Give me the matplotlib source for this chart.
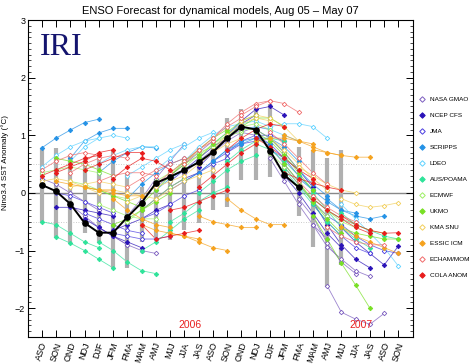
import numpy as np
import matplotlib
matplotlib.use("Agg")
import matplotlib.pyplot as plt
from matplotlib.lines import Line2D

plt.rcParams["font.family"] = ["Liberation Sans", "DejaVu Sans"]

SEASONS = ["ASO", "SON", "OND", "NDJ", "DJF", "JFM", "FMA", "MAM", "AMJ", "MJJ",
           "JJA", "JAS", "ASO", "SON", "OND", "NDJ", "DJF", "JFM", "FMA", "MAM",
           "AMJ", "MJJ", "JJA", "JAS", "ASO", "SON"]

# observed Nino3.4 (black line)
observed = [0.14, 0.03, -0.19, -0.52, -0.69, -0.69, -0.42, -0.17, 0.17, 0.28,
            0.40, 0.53, 0.71, 0.95, 1.15, 1.10, 0.73, 0.31, 0.10]

# grey spread bars at each start season
bar_low = [-0.50, -0.78, -0.87, -0.70, -0.87, -1.30, -1.30, -0.85, -0.78, -0.82, -0.65,
           -0.52, -0.30, -0.25, 0.23, 0.23, 0.28, 0.35, -0.40, -0.93, -1.63, -1.25]
bar_high = [0.78, 0.78, 0.65, 0.60, 0.70, 0.75, 0.35, 0.10, 0.25, 0.40, 0.57,
            0.80, 0.90, 1.30, 1.45, 1.55, 1.55, 1.00, 0.80, 0.75, 0.60, 0.75]

# model forecasts: (start season index, values for 5 consecutive seasons)
nasa_gmao = [
    (0, [0.25, 0.15, 0.00, -0.15, -0.30]),
    (2, [-0.20, -0.40, -0.60, -0.75, -0.90]),
    (4, [-0.60, -0.75, -0.90, -1.00, -1.05]),
    (6, [-0.40, -0.10, 0.25, 0.55, 0.85]),
    (8, [0.10, 0.30, 0.50, 0.70, 0.90]),
    (10, [0.35, 0.55, 0.75, 0.95, 1.10]),
    (12, [0.70, 0.90, 1.05, 1.15, 1.10]),
    (14, [1.05, 1.00, 0.80, 0.50, 0.20]),
    (16, [0.60, 0.20, -0.20, -0.55, -0.80]),
    (18, [-0.10, -0.41, -0.87, -1.20, -1.40]),
    (19, [-0.55, -0.93, -1.15, -1.35, -1.45]),
    (20, [-1.61, -2.07, -2.19, -2.28, -2.09]),
]
ncep_cfs = [
    (1, [-0.25, -0.25, -0.30, -0.35, -0.40]),
    (3, [-0.45, -0.60, -0.75, -0.85, -0.95]),
    (5, [-0.65, -0.55, -0.45, -0.30, -0.20]),
    (7, [-0.30, -0.10, 0.10, 0.25, 0.35]),
    (9, [0.20, 0.40, 0.60, 0.80, 0.95]),
    (11, [0.45, 0.70, 0.95, 1.20, 1.35]),
    (13, [1.00, 1.25, 1.45, 1.50, 1.35]),
    (15, [1.10, 0.95, 0.70, 0.40, 0.10]),
    (17, [0.30, 0.00, -0.35, -0.70, -0.95]),
    (19, [-0.15, -0.55, -0.90, -1.15, -1.30]),
    (21, [-0.60, -0.85, -1.05, -1.25, -0.92]),
]
jma = [
    (1, [0.00, -0.05, -0.15, -0.25, -0.35]),
    (3, [-0.35, -0.45, -0.55, -0.65, -0.70]),
    (5, [-0.70, -0.75, -0.80, -0.80, -0.75]),
    (7, [-0.45, -0.35, -0.20, -0.05, 0.05]),
    (9, [0.05, 0.20, 0.35, 0.50, 0.60]),
    (11, [0.35, 0.55, 0.70, 0.85, 0.90]),
    (13, [0.70, 0.90, 1.00, 1.00, 0.90]),
    (15, [1.00, 0.85, 0.60, 0.30, 0.05]),
    (17, [0.45, 0.15, -0.15, -0.40, -0.55]),
    (19, [-0.20, -0.50, -0.75, -0.95, -1.05]),
    (21, [-0.55, -0.75, -0.90, -1.00, -1.05]),
]
scripps = [
    (0, [0.78, 0.95, 1.09, 1.22, 1.28]),
    (2, [0.60, 0.90, 1.04, 1.12, 1.12]),
    (4, [0.35, 0.55, 0.70, 0.80, 0.78]),
    (6, [-0.10, 0.15, 0.35, 0.50, 0.60]),
    (8, [0.05, 0.25, 0.40, 0.55, 0.70]),
    (10, [0.20, 0.35, 0.55, 0.75, 0.85]),
    (12, [0.55, 0.75, 0.90, 0.95, 0.85]),
    (14, [0.85, 0.95, 0.95, 0.80, 0.55]),
    (16, [0.75, 0.60, 0.40, 0.15, -0.05]),
    (18, [0.25, 0.05, -0.15, -0.30, -0.35]),
    (20, [-0.10, -0.30, -0.40, -0.45, -0.40]),
]
ldeo = [
    (0, [0.45, 0.65, 0.80, 0.90, 0.95]),
    (2, [0.55, 0.80, 0.95, 1.00, 0.95]),
    (4, [0.50, 0.65, 0.75, 0.80, 0.80]),
    (6, [0.30, 0.45, 0.60, 0.75, 0.85]),
    (8, [0.40, 0.60, 0.80, 0.95, 1.05]),
    (10, [0.55, 0.80, 1.00, 1.15, 1.20]),
    (12, [0.85, 1.05, 1.20, 1.25, 1.15]),
    (14, [1.10, 1.15, 1.10, 1.00, 0.90]),
    (16, [1.15, 1.20, 1.20, 1.15, 0.95]),
    (18, [0.10, -0.10, -0.30, -0.45, -0.55]),
    (21, [-0.20, -0.45, -0.70, -0.95, -1.27]),
]
aus_poama = [
    (0, [-0.50, -0.55, -0.70, -0.85, -0.95]),
    (1, [-0.76, -0.87, -1.00, -1.15, -1.30]),
    (4, [-0.85, -1.00, -1.20, -1.35, -1.40]),
    (7, [-1.00, -0.85, -0.65, -0.45, -0.30]),
    (9, [-0.50, -0.35, -0.15, 0.00, 0.10]),
    (11, [0.00, 0.20, 0.40, 0.55, 0.65]),
    (13, [0.55, 0.75, 0.90, 0.95, 0.90]),
    (15, [0.85, 0.75, 0.55, 0.30, 0.05]),
    (17, [0.40, 0.10, -0.20, -0.50, -0.75]),
    (19, [0.00, -0.30, -0.60, -0.80, -0.95]),
    (21, [-0.35, -0.55, -0.65, -0.75, -0.80]),
]
ecmwf = [
    (0, [0.35, 0.40, 0.45, 0.40, 0.35]),
    (2, [0.20, 0.15, 0.05, -0.05, -0.10]),
    (4, [-0.20, -0.30, -0.40, -0.45, -0.45]),
    (6, [-0.50, -0.30, -0.10, 0.10, 0.25]),
    (8, [0.20, 0.35, 0.55, 0.70, 0.80]),
    (10, [0.45, 0.65, 0.85, 1.00, 1.05]),
    (12, [0.80, 1.00, 1.15, 1.20, 1.10]),
    (14, [1.10, 1.10, 0.95, 0.70, 0.40]),
    (16, [0.70, 0.45, 0.15, -0.15, -0.40]),
    (18, [0.15, -0.10, -0.30, -0.50, -0.60]),
    (20, [-0.30, -0.45, -0.55, -0.65, -0.70]),
]
ukmo = [
    (1, [0.60, 0.55, 0.50, 0.40, 0.30]),
    (3, [0.10, 0.05, -0.05, -0.15, -0.25]),
    (5, [-0.55, -0.45, -0.30, -0.15, 0.00]),
    (7, [-0.20, 0.05, 0.30, 0.50, 0.65]),
    (9, [0.30, 0.55, 0.75, 0.95, 1.10]),
    (11, [0.60, 0.85, 1.05, 1.25, 1.35]),
    (13, [0.95, 1.15, 1.30, 1.30, 1.15]),
    (15, [1.05, 0.90, 0.65, 0.35, 0.05]),
    (17, [0.50, 0.20, -0.15, -0.45, -0.70]),
    (19, [-0.40, -0.80, -1.22, -1.60, -2.00]),
    (21, [-0.60, -0.70, -0.75, -0.80, -0.80]),
]
kma_snu = [
    (0, [0.20, 0.25, 0.20, 0.10, 0.00]),
    (2, [0.10, 0.15, 0.20, 0.15, 0.10]),
    (4, [0.05, 0.05, 0.00, -0.05, -0.10]),
    (6, [-0.15, -0.05, 0.10, 0.20, 0.30]),
    (8, [-0.10, 0.05, 0.20, 0.30, 0.40]),
    (10, [0.30, 0.50, 0.70, 0.85, 0.95]),
    (12, [0.75, 1.00, 1.20, 1.30, 1.25]),
    (14, [1.25, 1.35, 1.30, 1.15, 0.90]),
    (16, [0.95, 0.75, 0.50, 0.25, 0.05]),
    (18, [0.45, 0.30, 0.15, 0.05, 0.00]),
    (21, [-0.10, -0.20, -0.25, -0.22, -0.17]),
]
essic_icm = [
    (1, [0.20, 0.15, 0.10, 0.05, 0.05]),
    (3, [0.10, 0.05, 0.00, -0.05, -0.05]),
    (5, [-0.10, -0.30, -0.45, -0.55, -0.60]),
    (7, [-0.55, -0.65, -0.70, -0.75, -0.80]),
    (9, [-0.70, -0.75, -0.85, -0.95, -1.00]),
    (11, [-0.40, -0.50, -0.55, -0.60, -0.60]),
    (13, [-0.10, -0.30, -0.45, -0.55, -0.55]),
    (15, [0.90, 0.95, 0.95, 0.90, 0.85]),
    (17, [1.00, 0.90, 0.80, 0.70, 0.65]),
    (19, [0.75, 0.70, 0.65, 0.62, 0.62]),
    (21, [-0.60, -0.75, -0.85, -0.95, -1.05]),
]
echam_mom = [
    (0, [0.40, 0.55, 0.65, 0.70, 0.65]),
    (2, [0.35, 0.50, 0.60, 0.65, 0.60]),
    (4, [0.20, 0.30, 0.35, 0.35, 0.30]),
    (6, [0.10, 0.25, 0.40, 0.50, 0.60]),
    (8, [0.15, 0.35, 0.55, 0.75, 0.90]),
    (10, [0.50, 0.75, 0.95, 1.15, 1.30]),
    (12, [0.95, 1.20, 1.40, 1.55, 1.60]),
    (14, [1.35, 1.50, 1.60, 1.55, 1.40]),
    (16, [1.05, 0.85, 0.60, 0.35, 0.15]),
    (18, [0.20, -0.05, -0.25, -0.40, -0.50]),
    (20, [-0.60, -0.75, -0.85, -0.90, -0.90]),
]
cola_anom = [
    (0, [0.30, 0.40, 0.50, 0.60, 0.65]),
    (1, [0.35, 0.45, 0.55, 0.70, 0.75]),
    (3, [0.40, 0.50, 0.60, 0.70, 0.70]),
    (5, [0.25, 0.45, 0.60, 0.55, 0.40]),
    (7, [-0.55, -0.80, -0.75, -0.70, -0.65]),
    (9, [-0.30, -0.25, -0.15, -0.05, 0.05]),
    (11, [0.10, 0.30, 0.50, 0.70, 0.85]),
    (13, [0.75, 0.95, 1.10, 1.20, 1.15]),
    (15, [0.95, 0.80, 0.60, 0.40, 0.25]),
    (17, [0.35, 0.25, 0.17, 0.10, 0.05]),
    (19, [-0.10, -0.30, -0.45, -0.60, -0.70]),
    (21, [-0.40, -0.55, -0.65, -0.70, -0.69]),
]

# name, runs, colour, open marker?
MODELS = [
    ("NASA GMAO", nasa_gmao, "#7b5cbf", True),
    ("NCEP CFS", ncep_cfs, "#2a12b8", False),
    ("JMA", jma, "#4a3ce0", True),
    ("SCRIPPS", scripps, "#2492e6", False),
    ("LDEO", ldeo, "#5ed2ff", True),
    ("AUS/POAMA", aus_poama, "#2ee39a", False),
    ("ECMWF", ecmwf, "#9cef62", True),
    ("UKMO", ukmo, "#78e024", False),
    ("KMA SNU", kma_snu, "#f2cf5a", True),
    ("ESSIC ICM", essic_icm, "#f5a21e", False),
    ("ECHAM/MOM", echam_mom, "#f06a6a", True),
    ("COLA ANOM", cola_anom, "#e81c1c", False),
]

fig = plt.figure(figsize=(4.74, 3.64), dpi=100)
ax = fig.add_axes([28 / 474, 1 - 337 / 364, 385 / 474, 317 / 364])

ax.axhline(0, color="#888888", lw=1.0, zorder=0.5)
for yv in (0.5, -0.5):
    ax.axhline(yv, color="#bbbbbb", lw=0.6, ls=(0, (1, 2)), zorder=0.5)

# grey bars sit above the thin lines but under the markers
for i, (lo, hi) in enumerate(zip(bar_low, bar_high)):
    ax.plot([i, i], [lo, hi], color="#b0b0b0", lw=3.0, solid_capstyle="butt", zorder=2.5)

for name, runs, color, hollow in MODELS:
    for start, vals in runs:
        x = np.arange(start, start + len(vals))
        ax.plot(x, vals, color=color, lw=0.6, alpha=0.75, zorder=2)
        ax.plot(x, vals, ls="none", marker="D", ms=2.3, mew=0.6, mec=color,
                mfc="white" if hollow else color, zorder=3)

ax.plot(np.arange(len(observed)), observed, color="black", lw=1.4,
        marker="o", ms=3.8, zorder=4)

ax.set_xlim(-0.96, 26.02)
ax.set_ylim(-2.5, 3)
ax.set_xticks(np.arange(len(SEASONS)))
ax.set_xticklabels(SEASONS, rotation=72, fontsize=6.5, ha="center")
ax.set_yticks([-2, -1, 0, 1, 2, 3])
ax.set_yticklabels(["\u22122", "\u22121", "0", "1", "2", "3"], fontsize=6.5)
ax.set_yticks(np.arange(-2.5, 3.01, 0.1), minor=True)
ax.tick_params(axis="x", direction="in", length=5, width=0.7, top=True, pad=3)
ax.tick_params(axis="y", which="major", direction="in", length=5, width=0.7,
               right=True, pad=2)
ax.tick_params(axis="y", which="minor", direction="in", length=2.5, width=0.5,
               right=True)
for sp in ax.spines.values():
    sp.set_linewidth(0.8)

ax.set_ylabel("Nino3.4 SST Anomaly (\u00b0C)", fontsize=5.8, labelpad=3)
ax.yaxis.set_label_coords(-0.05, 0.55)
ax.set_title("ENSO Forecast for dynamical models, Aug 05 \u2013 May 07",
             fontsize=8, pad=4)

ax.text(0.03, 0.96, "IRI", transform=ax.transAxes, fontsize=23, color="#14146e",
        family=["Liberation Serif", "DejaVu Serif"], va="top", ha="left")
ax.text(10.4, -2.29, "2006", color="#e82020", fontsize=7.5, ha="center", va="center")
ax.text(22.4, -2.29, "2007", color="#e82020", fontsize=7.5, ha="center", va="center",
        zorder=5)

# legend at the right, outside the axes
for k, (name, runs, color, hollow) in enumerate(MODELS):
    yf = 1 - (99.3 + 16.0 * k) / 364
    fig.add_artist(Line2D([422 / 474], [yf], marker="D", ms=2.8, mew=0.7, mec=color,
                          mfc="white" if hollow else color, ls="none"))
    fig.text(430 / 474, yf, name, fontsize=4.6, va="center", ha="left")

fig.savefig("out.png", dpi=100)
